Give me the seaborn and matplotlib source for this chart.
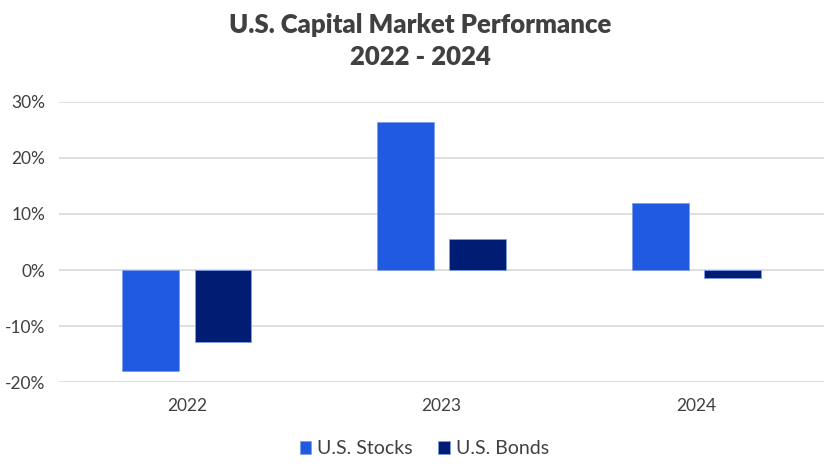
import matplotlib
matplotlib.use("Agg")
import matplotlib.pyplot as plt
import seaborn as sns
import pandas as pd
from matplotlib.ticker import FuncFormatter, MultipleLocator
from matplotlib.patches import Patch

years = ["2022", "2023", "2024"]
series = ["U.S. Stocks", "U.S. Bonds"]
stocks = [-18.0, 26.3, 11.9]
bonds = [-12.8, 5.5, -1.4]
colors = ["#1F5AE0", "#001C73"]

df = pd.DataFrame({
    "year": years * 2,
    "series": [series[0]] * 3 + [series[1]] * 3,
    "value": stocks + bonds,
})

sns.set_theme(style="white")
plt.rcParams["font.family"] = ["Lato", "DejaVu Sans"]

fig = plt.figure(figsize=(8.4, 4.72), dpi=100)
ax = fig.add_axes([0.0706, 0.19, 0.9104, 0.5945])

sns.barplot(data=df, x="year", y="value", hue="series", palette=colors,
            saturation=1, width=0.569, gap=0.215, ax=ax, legend=False,
            edgecolor="#7f9de8", linewidth=0.6, zorder=3)

ax.set_xlim(-0.5, 2.5)
ax.set_ylim(-20, 30)
ax.yaxis.set_major_locator(MultipleLocator(10))
ax.yaxis.set_major_formatter(FuncFormatter(lambda v, p: f"{v:.0f}%"))
ax.grid(axis="y", color="#d9d9d9", linewidth=1.2, zorder=0)
ax.set_axisbelow(True)
for s in ax.spines.values():
    s.set_visible(False)
ax.set_xlabel("")
ax.set_ylabel("")
ax.tick_params(axis="y", length=0, pad=10, labelsize=12.5, labelcolor="#404040")
ax.tick_params(axis="x", length=0, pad=11, labelsize=12.5, labelcolor="#404040")

fig.text(0.5, 0.947, "U.S. Capital Market Performance", ha="center", va="center",
         fontsize=18.5, fontweight="heavy", color="#404040")
fig.text(0.5, 0.879, "2022 - 2024", ha="center", va="center",
         fontsize=18.5, fontweight="heavy", color="#404040")

handles = [Patch(facecolor=c, edgecolor="#7f9de8", linewidth=0.5) for c in colors]
fig.legend(handles, series, loc="center", bbox_to_anchor=(0.505, 0.049), ncol=2,
           frameon=False, fontsize=14, handlelength=0.6, handleheight=0.6,
           handletextpad=0.3, columnspacing=1.3, labelcolor="#404040")

fig.savefig("out.png", dpi=100)
